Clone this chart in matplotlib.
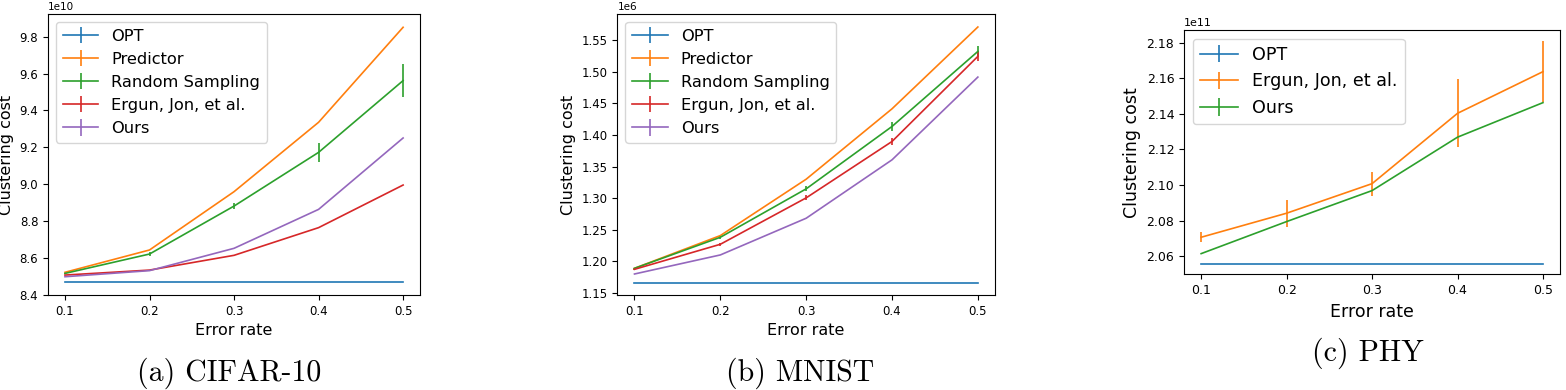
import matplotlib.pyplot as plt
import numpy as np

error_rate = [0.1, 0.2, 0.3, 0.4, 0.5]

# (a) CIFAR-10, values in 1e10
cifar_opt = [8.469, 8.469, 8.469, 8.469, 8.469]
cifar_pred = [8.523, 8.644, 8.960, 9.336, 9.851]
cifar_rand = [8.517, 8.622, 8.882, 9.173, 9.562]
cifar_rand_err = [0.003, 0.009, 0.018, 0.050, 0.088]
cifar_ergun = [8.508, 8.535, 8.615, 8.765, 8.996]
cifar_ours = [8.499, 8.532, 8.653, 8.864, 9.251]

# (b) MNIST, values in 1e6
mnist_opt = [1.1659, 1.1659, 1.1659, 1.1659, 1.1659]
mnist_pred = [1.1886, 1.2405, 1.3299, 1.4415, 1.5712]
mnist_rand = [1.1886, 1.2378, 1.3146, 1.4135, 1.5325]
mnist_rand_err = [0.001, 0.002, 0.004, 0.007, 0.008]
mnist_ergun = [1.1870, 1.2267, 1.3003, 1.3897, 1.5246]
mnist_ergun_err = [0.001, 0.002, 0.004, 0.006, 0.008]
mnist_ours = [1.1796, 1.2098, 1.2680, 1.3606, 1.4918]

# (c) PHY, values in 1e11
phy_opt = [2.0559, 2.0559, 2.0559, 2.0559, 2.0559]
phy_ergun = [2.0707, 2.0842, 2.1008, 2.1403, 2.1637]
phy_ergun_err = [0.0028, 0.0075, 0.0067, 0.0190, 0.0173]
phy_ours = [2.0615, 2.0795, 2.0969, 2.1269, 2.1463]

labels5 = ['OPT', 'Predictor', 'Random Sampling', 'Ergun, Jon, et al.', 'Ours']
labels3 = ['OPT', 'Ergun, Jon, et al.', 'Ours']


def panel(ax, series, errs, labels, scale, ylim, yticks, fs):
    x = np.array(error_rate)
    for i, (s, e, lab) in enumerate(zip(series, errs, labels)):
        y = np.array(s) * scale
        ye = np.zeros_like(y) if e is None else np.array(e) * scale
        ax.errorbar(x, y, yerr=ye, color='C%d' % i, lw=1.2, elinewidth=1.2, label=lab)
    ax.set_xlim(0.08, 0.52)
    ax.set_ylim(ylim[0] * scale, ylim[1] * scale)
    ax.set_xticks(error_rate)
    ax.set_yticks(np.array(yticks) * scale)
    ax.tick_params(labelsize=fs['tick'])
    ax.yaxis.get_offset_text().set_fontsize(fs['off'])
    ax.set_xlabel('Error rate', fontsize=fs['label'])
    ax.set_ylabel('Clustering cost', fontsize=fs['label'])
    ax.legend(loc='upper left', fontsize=fs['legend'], handlelength=2.2)


fig = plt.figure(figsize=(15.66, 3.9), dpi=100)
ax1 = fig.add_axes([0.0307, 0.2436, 0.2375, 0.7205])
ax2 = fig.add_axes([0.3942, 0.2436, 0.2412, 0.7205])
ax3 = fig.add_axes([0.7561, 0.2967, 0.2401, 0.6264])

fs_ab = {'tick': 8.5, 'off': 7.5, 'label': 11.5, 'legend': 11.7}
fs_c = {'tick': 9, 'off': 8, 'label': 12.5, 'legend': 12.6}

panel(ax1, [cifar_opt, cifar_pred, cifar_rand, cifar_ergun, cifar_ours],
      [None, None, cifar_rand_err, None, None], labels5, 1e10,
      (8.4, 9.923), [8.4, 8.6, 8.8, 9.0, 9.2, 9.4, 9.6, 9.8], fs_ab)
panel(ax2, [mnist_opt, mnist_pred, mnist_rand, mnist_ergun, mnist_ours],
      [None, None, mnist_rand_err, mnist_ergun_err, None], labels5, 1e6,
      (1.1463, 1.5918), [1.15, 1.20, 1.25, 1.30, 1.35, 1.40, 1.45, 1.50, 1.55], fs_ab)
panel(ax3, [phy_opt, phy_ergun, phy_ours],
      [None, phy_ergun_err, None], labels3, 1e11,
      (2.0499, 2.1871), [2.06, 2.08, 2.10, 2.12, 2.14, 2.16, 2.18], fs_c)

fig.text(0.1464, 0.0436, '(a) CIFAR-10', family='cmr10', fontsize=21.5, ha='center', va='center')
fig.text(0.5110, 0.0436, '(b) MNIST', family='cmr10', fontsize=21.5, ha='center', va='center')
fig.text(0.8736, 0.0949, '(c) PHY', family='cmr10', fontsize=21.5, ha='center', va='center')

fig.savefig('out.png', dpi=100)
